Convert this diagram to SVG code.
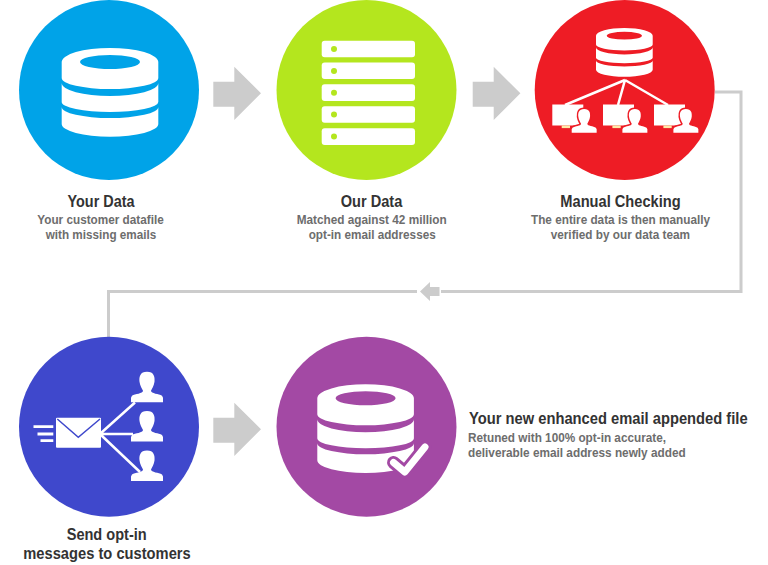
<svg xmlns="http://www.w3.org/2000/svg" xmlns:xlink="http://www.w3.org/1999/xlink" width="768" height="565" viewBox="0 0 768 565">
<style>
text{font-family:"Liberation Sans",Arial,sans-serif;font-weight:bold}
.t{font-size:17.2px;fill:#333}
.s{font-size:13.5px;fill:#6d6d6d}
.w{fill:#fff}
.a{fill:#ccc}
.l{fill:none;stroke:#ccc;stroke-width:3}
.wl{stroke:#fff;fill:none}
</style>
<defs>
<g id="db" fill="#fff">
<path fill-rule="evenodd" d="M0 14A48.3 14 0 0 1 96.6 14V30A48.3 11 0 0 1 0 30ZM18.3 14A30 7 0 0 0 78.3 14A30 7 0 0 0 18.3 14Z"/>
<path d="M0 35A48.3 13 0 0 0 96.6 35V54A48.3 10 0 0 1 0 54Z"/>
<path d="M0 59A48.3 11 0 0 0 96.6 59V76A48.3 12.7 0 0 1 0 76Z"/>
</g>
<path id="p" d="M16 0C9 0 8 5 8.500 10C9 14 11 17 12 19C12 22 4 22 1 24L0 26V30.500H32V26L31 24C28 22 20 22 20 19C21 17 23 14 23.500 10C24 5 23 0 16 0Z"/>
<path id="arrow" class="a" d="M0 15H21V0L47.7 26.600L21 53.300V40H0Z"/>
<g id="mon">
<rect x="0" y="0" width="31" height="21" fill="#fff"/>
<rect x="9.400" y="21" width="8.300" height="2.600" fill="#ffe9a8"/>
<use href="#p" transform="translate(19.400 4.500) scale(.78)" fill="#fff" stroke="#ee1c25" stroke-width="4" paint-order="stroke"/>
</g>
</defs>

<g id="connectors">
<path class="l" d="M715 92H741V291.500H441"/>
<path class="l" d="M417 291.500H108.500V337"/>
<path class="a" d="M420 291.500L430 282V287H439.500V296H430V301Z"/>
<use href="#arrow" x="213.300" y="66.700"/>
<use href="#arrow" x="472.700" y="66.700"/>
<use href="#arrow" x="213.300" y="402.700"/>
</g>

<g id="your-data">
<circle cx="109" cy="90" r="90" fill="#00a3e8"/>
<use href="#db" x="61.700" y="48"/>
<text class="t" x="67.500" y="207" textLength="67" lengthAdjust="spacingAndGlyphs">Your Data</text>
<text class="s" x="37.300" y="224" textLength="126.400" lengthAdjust="spacingAndGlyphs">Your customer datafile</text>
<text class="s" x="45.700" y="238.700" textLength="110.600" lengthAdjust="spacingAndGlyphs">with missing emails</text>
</g>

<g id="our-data">
<circle cx="366.500" cy="90" r="90" fill="#b4e61e"/>
<g class="w">
<rect x="321.700" y="40.700" width="93.300" height="16.600" rx="3"/>
<rect x="321.700" y="62.500" width="93.300" height="16.600" rx="3"/>
<rect x="321.700" y="84.300" width="93.300" height="16.600" rx="3"/>
<rect x="321.700" y="106.200" width="93.300" height="16.600" rx="3"/>
<rect x="321.700" y="128.300" width="93.300" height="16.600" rx="3"/>
</g>
<g fill="#b4e61e">
<circle cx="334" cy="49" r="3"/>
<circle cx="334" cy="71" r="3"/>
<circle cx="334" cy="92.800" r="3"/>
<circle cx="334" cy="114.600" r="3"/>
<circle cx="334" cy="136.600" r="3"/>
</g>
<text class="t" x="340.700" y="207" textLength="61.600" lengthAdjust="spacingAndGlyphs">Our Data</text>
<text class="s" x="296.700" y="224" textLength="150" lengthAdjust="spacingAndGlyphs">Matched against 42 million</text>
<text class="s" x="308.700" y="238.700" textLength="127" lengthAdjust="spacingAndGlyphs">opt-in email addresses</text>
</g>

<g id="manual-checking">
<circle cx="624.700" cy="90" r="90" fill="#ee1c25"/>
<use href="#db" transform="translate(596 28) scale(.587 .55)"/>
<path class="wl" stroke-width="2.500" d="M625 80L565 105M625 80L618 105M625 80L668 105"/>
<use href="#mon" x="552.300" y="104.500"/>
<use href="#mon" x="603" y="104.500"/>
<use href="#mon" x="654" y="104.500"/>
<text class="t" x="560.300" y="207" textLength="120.400" lengthAdjust="spacingAndGlyphs">Manual Checking</text>
<text class="s" x="531" y="224" textLength="179" lengthAdjust="spacingAndGlyphs">The entire data is then manually</text>
<text class="s" x="550.700" y="238.700" textLength="139.300" lengthAdjust="spacingAndGlyphs">verified by our data team</text>
</g>

<g id="send-opt-in">
<circle cx="109" cy="426.700" r="90" fill="#3f48cc"/>
<path class="wl" stroke-width="2.500" d="M101 433L135 402.500M101 434H133M101 435L140 472"/>
<use href="#p" x="131" y="371.700" fill="#fff"/>
<use href="#p" x="131" y="411" fill="#fff"/>
<use href="#p" x="131" y="450.500" fill="#fff"/>
<rect x="56" y="417.700" width="45" height="30" rx="1" fill="#fff"/>
<path fill="none" stroke="#3f48cc" stroke-width="1.500" d="M57.300 419L78.300 437.300L100 419"/>
<path class="wl" stroke-width="2.800" d="M33.500 426.700H53.300M37.500 434H53.300M40.500 440.700H53.300"/>
<text class="t" x="66.700" y="540" textLength="80" lengthAdjust="spacingAndGlyphs">Send opt-in</text>
<text class="t" x="23.300" y="558.700" textLength="167.400" lengthAdjust="spacingAndGlyphs">messages to customers</text>
</g>

<g id="enhanced-file">
<circle cx="366.500" cy="426.700" r="90" fill="#a349a4"/>
<use href="#db" x="317.300" y="384.300"/>
<path fill="none" stroke="#a349a4" stroke-width="13" stroke-linejoin="round" stroke-linecap="round" d="M393.500 462.500L404.800 472L425 447"/>
<path fill="none" stroke="#fff" stroke-width="7" stroke-linejoin="round" stroke-linecap="round" d="M393.500 462.500L404.800 472L425 447"/>
<text class="t" transform="translate(469 424.300) scale(.86 1)" x="0" y="0" textLength="324" lengthAdjust="spacingAndGlyphs">Your new enhanced email appended file</text>
<text class="s" x="468" y="442" textLength="198" lengthAdjust="spacingAndGlyphs">Retuned with 100% opt-in accurate,</text>
<text class="s" x="468" y="457.300" textLength="217.700" lengthAdjust="spacingAndGlyphs">deliverable email address newly added</text>
</g>
</svg>
